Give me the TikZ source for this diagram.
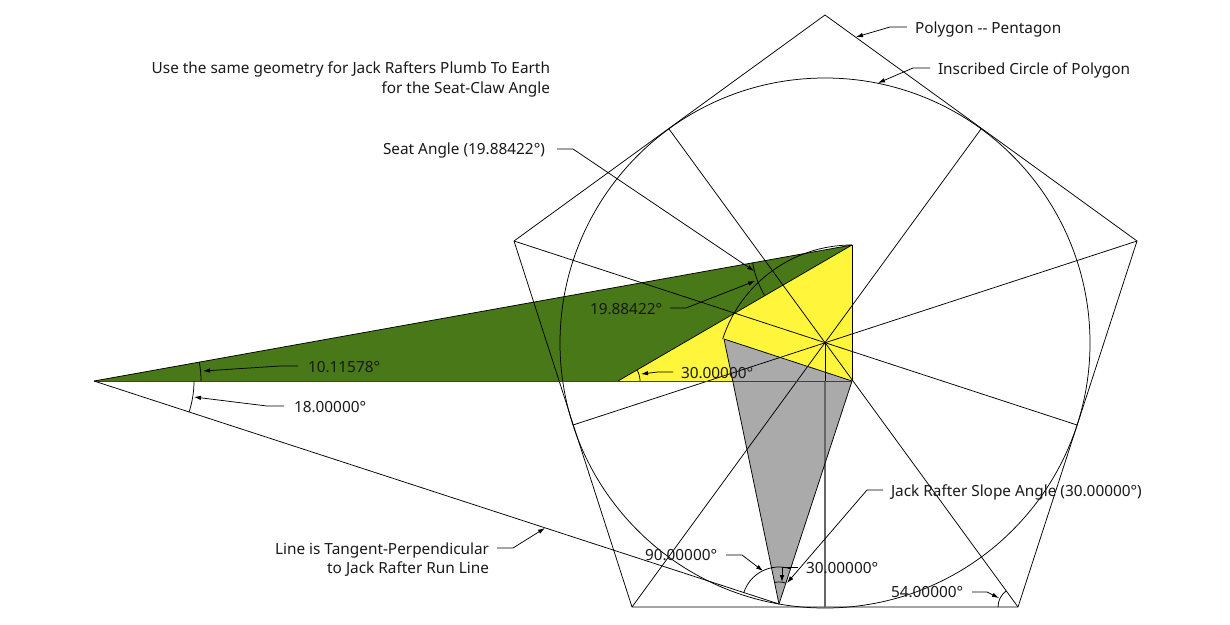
\documentclass[tikz,border=0pt]{standalone}
\usepackage{fontspec}
\setmainfont{Noto Sans}
\usetikzlibrary{arrows.meta}
\definecolor{leafgreen}{RGB}{72,120,24}
\definecolor{sunyellow}{RGB}{255,245,58}
\definecolor{rafterbox}{RGB}{170,170,170}
\tikzset{
  geo/.style={draw=black,line width=0.75pt,line join=round},
  lead/.style={draw=black,line width=0.75pt,-{Latex[length=7pt,width=4.5pt]}},
  lab/.style={inner sep=0pt,outer sep=0pt,font=\fontsize{15.35pt}{17pt}\selectfont,text=black!90,anchor=base west},
  labr/.style={lab,anchor=base east}
}
\begin{document}
\begin{tikzpicture}[x=1pt,y=-1pt]
\useasboundingbox (0,0) rectangle (1230,624);
% key points
\coordinate (O) at (825,343);
\coordinate (A) at (825,15);
\coordinate (B) at (1137,241);
\coordinate (C) at (1018,607);
\coordinate (D) at (632,607);
\coordinate (E) at (514,241);
\coordinate (mA) at (825,607.5);
\coordinate (mB) at (573,425);
\coordinate (mC) at (669,129);
\coordinate (mD) at (981,129);
\coordinate (mE) at (1077,425);
\coordinate (far) at (94,381);
\coordinate (base) at (852,381);
\coordinate (top) at (852,245);
\coordinate (mid) at (618,381);
\coordinate (g1) at (724,339);
\coordinate (g2) at (779,604);
% fills
\fill[leafgreen] (far) -- (top) -- (mid) -- cycle;
\fill[sunyellow] (mid) -- (top) -- (base) -- cycle;
\fill[rafterbox] (g1) -- (base) -- (g2) -- cycle;
% pentagon, circle, spokes
\draw[geo] (A) -- (B) -- (C) -- (D) -- (E) -- cycle;
\draw[geo] (O) circle[radius=265pt];
\draw[geo] (E) -- (mE);
\draw[geo] (B) -- (mB);
\draw[geo] (D) -- (mD);
\draw[geo] (C) -- (mC);
\draw[geo] (O) -- (base -| O);
\draw[draw=black!60,line width=1.4pt] (base -| O) -- (mA);
% construction triangle
\draw[geo] (far) -- (top) -- (mid);
\draw[geo] (top) -- (base);
\draw[draw=black!75,line width=1pt] (far) -- (base);
\draw[geo] (far) -- (g2);
\draw[geo] (g1) -- (base) -- (g2) -- cycle;
\draw[geo] (top) arc[start angle=90,end angle=162,radius=136pt];
% angle arcs
\draw[geo] (far) ++(0:107pt) arc[start angle=0,end angle=10.116,radius=107pt];
\draw[geo] (far) ++(0:100pt) arc[start angle=0,end angle=-18,radius=100pt];
\draw[geo] (mid) ++(0:22pt) arc[start angle=0,end angle=30,radius=22pt];
\draw[geo] (top) ++(190.116:101pt) arc[start angle=190.116,end angle=210,radius=101pt];
\draw[geo] (g2) ++(72:37pt) arc[start angle=72,end angle=162,radius=37pt];
\draw[geo] (g2) ++(72:22pt) arc[start angle=72,end angle=102,radius=22pt];
\draw[geo] (C) ++(180:20pt) arc[start angle=180,end angle=126,radius=20pt];
% labels
\node[lab] (tPoly) at (915,33.5) {Polygon {-}{-} Pentagon};
\node[lab] (tCirc) at (938,74.5) {Inscribed Circle of Polygon};
\node[labr] (tUse1) at (550,73.5) {Use the same geometry for Jack Rafters Plumb To Earth};
\node[labr] (tUse2) at (550,93.5) {for the Seat-Claw Angle};
\node[lab] (tSeat) at (383,154.5) {Seat Angle (19.88422°)};
\node[lab] (tSeatV) at (590,314.5) {19.88422°};
\node[lab] (tThirty) at (681,378.5) {30.00000°};
\node[lab] (tTen) at (308,372.5) {10.11578°};
\node[lab] (tEight) at (294,412.5) {18.00000°};
\node[labr] (tLine1) at (489,554.5) {Line is Tangent-Perpendicular};
\node[labr] (tLine2) at (489,573.5) {to Jack Rafter Run Line};
\node[lab] (tJack) at (891,496.5) {Jack Rafter Slope Angle (30.00000°)};
\node[lab] (tNinety) at (645,560.5) {90.00000°};
\node[lab] (tThirtyB) at (806,573.5) {30.00000°};
\node[lab] (tFiftyFour) at (891,597.5) {54.00000°};
% leader tips and elbows
\coordinate (ePoly) at (890,27); \coordinate (pPoly) at (856,37);
\coordinate (eCirc) at (913,68); \coordinate (pCirc) at (878,83);
\coordinate (eSeat) at (573,149); \coordinate (pSeat) at (754,271);
\coordinate (eSeatV) at (686,308); \coordinate (pSeatV) at (755,281);
\coordinate (eThirty) at (658,372); \coordinate (pThirty) at (641,374);
\coordinate (eTen) at (280,366); \coordinate (pTen) at (203,371);
\coordinate (eEight) at (267,406); \coordinate (pEight) at (194,397);
\coordinate (eLine) at (513,548); \coordinate (pLine) at (545,528);
\coordinate (eJack) at (867,490); \coordinate (pJack) at (787,583);
\coordinate (eNinety) at (742,555); \coordinate (pNinety) at (763,571);
\coordinate (eThirtyB) at (782,567); \coordinate (pThirtyB) at (782,582);
\coordinate (eFiftyFour) at (987,592); \coordinate (pFiftyFour) at (999,598);
% leaders
\draw[lead] (907,27) -- (ePoly) -- (pPoly);
\draw[lead] (930,68) -- (eCirc) -- (pCirc);
\draw[lead] (557,149) -- (eSeat) -- (pSeat);
\draw[lead] (670,308) -- (eSeatV) -- (pSeatV);
\draw[lead] (673,372) -- (eThirty) -- (pThirty);
\draw[lead] (298,366) -- (eTen) -- (pTen);
\draw[lead] (284,406) -- (eEight) -- (pEight);
\draw[lead] (497,548) -- (eLine) -- (pLine);
\draw[lead] (883,490) -- (eJack) -- (pJack);
\draw[lead] (726,555) -- (eNinety) -- (pNinety);
\draw[lead] (798,567) -- (eThirtyB) -- (pThirtyB);
\draw[lead] (972,592) -- (eFiftyFour) -- (pFiftyFour);
\end{tikzpicture}
\end{document}
